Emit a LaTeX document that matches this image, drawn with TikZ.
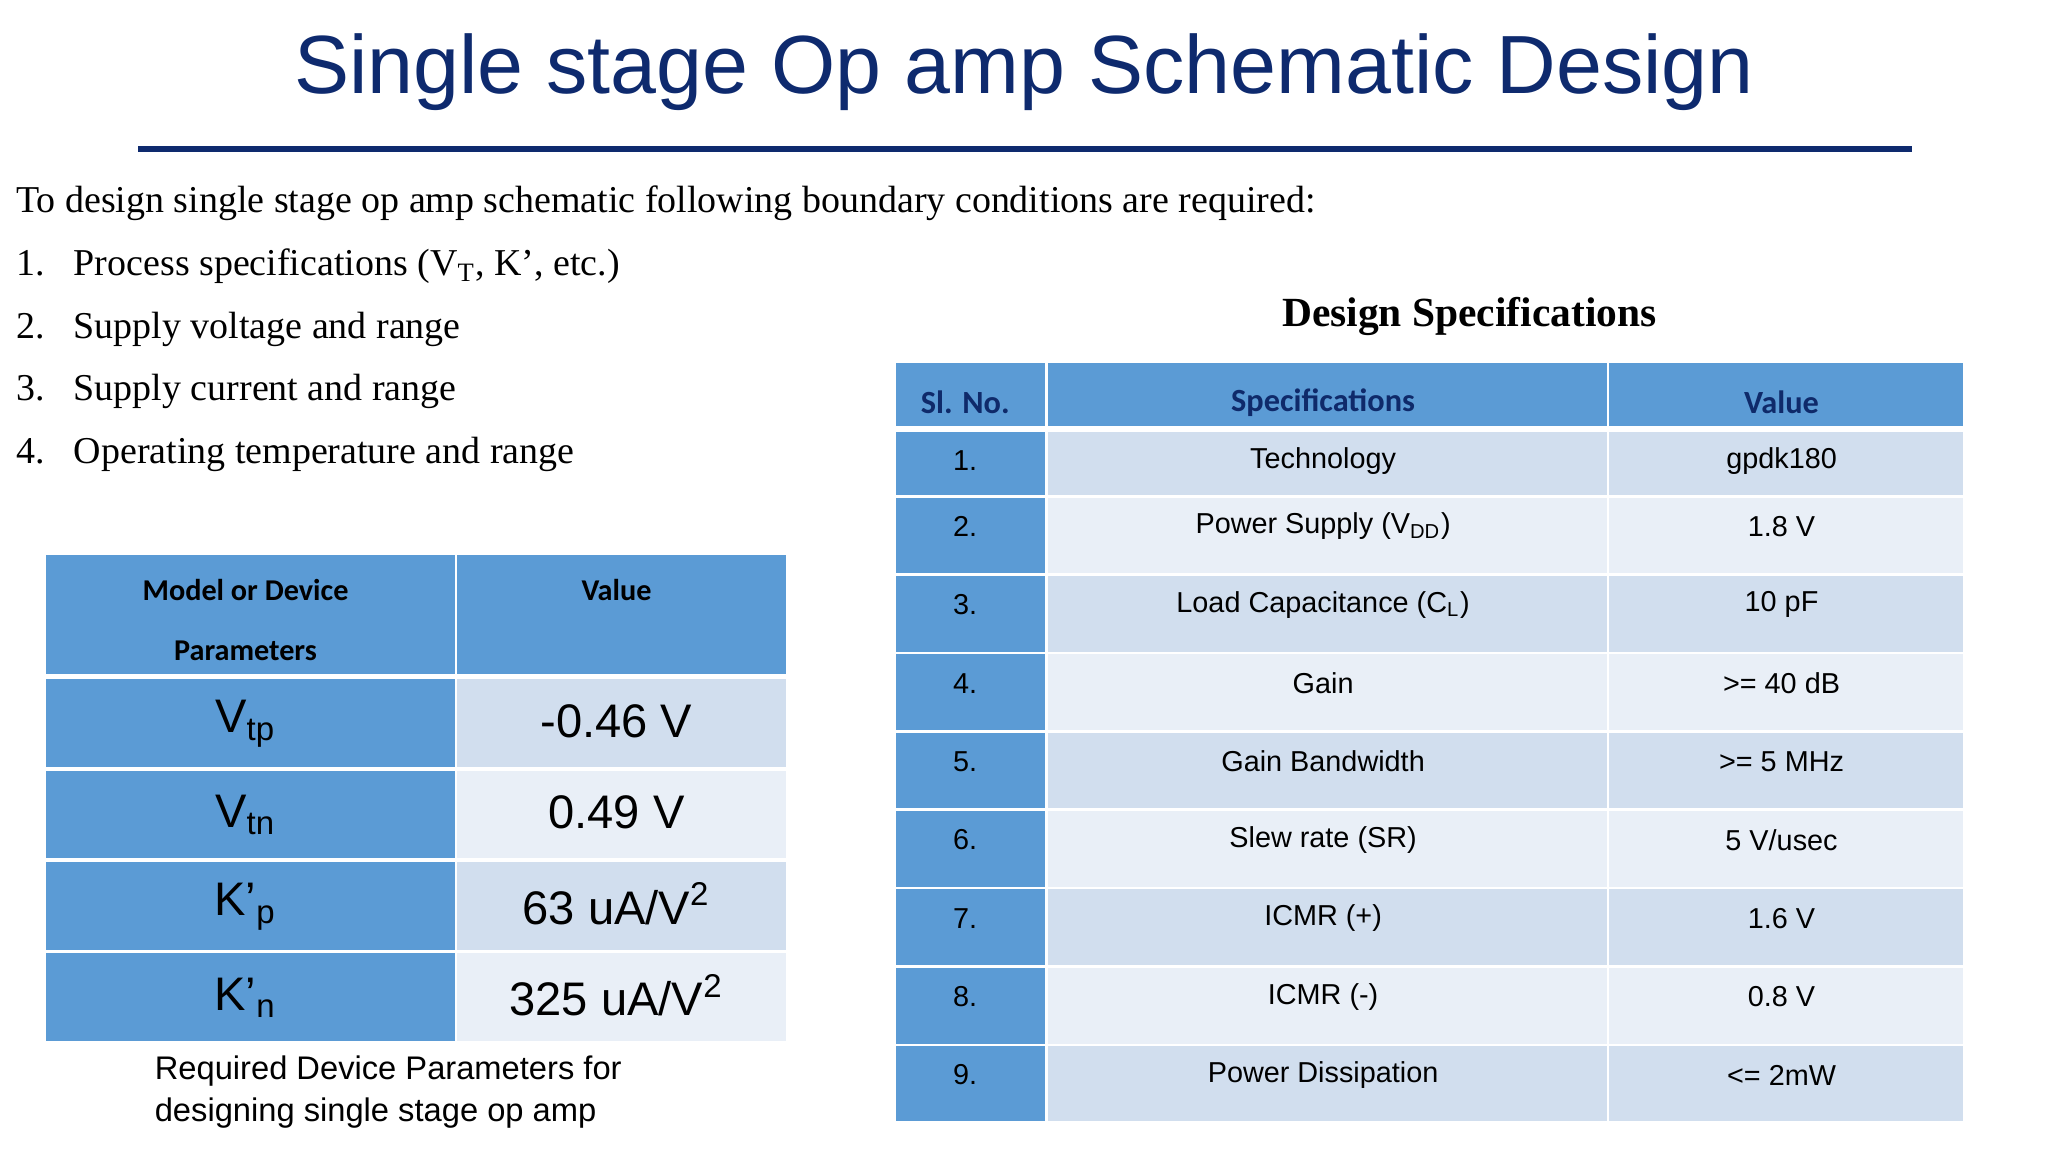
\documentclass[tikz,border=0pt]{standalone}
\usepackage{fontspec}
\setmainfont{Liberation Serif}
\newfontfamily\arial{Liberation Sans}
\newfontfamily\calib{Carlito}
\definecolor{navy}{HTML}{0E2A6E}
\definecolor{hblue}{HTML}{5B9BD5}
\definecolor{rowA}{HTML}{D1DEEE}
\definecolor{rowB}{HTML}{E9EFF7}
\definecolor{hdtext}{HTML}{0F2A6A}
\tikzset{
  celltxt/.style={inner sep=0pt,font=\arial\fontsize{8.2}{10}\selectfont},
  bigtxt/.style={inner sep=0pt,font=\arial\fontsize{13.4}{16}\selectfont},
  hdtxt/.style={inner sep=0pt,font=\calib\bfseries\fontsize{9.2}{11}\selectfont,text=hdtext},
  lhdtxt/.style={inner sep=0pt,font=\calib\bfseries\fontsize{8.6}{11}\selectfont},
  bodytxt/.style={inner sep=0pt,anchor=base west,font=\fontsize{10.8}{13}\selectfont},
}
\begin{document}
\begin{tikzpicture}[x=0.013061cm,y=-0.013061cm]
\useasboundingbox (0,0) rectangle (1568,882);
% title
\node[inner sep=0pt,text=navy,font=\arial\fontsize{23.5}{28}\selectfont] (title) at (784,55) {Single stage Op amp Schematic Design};
\fill[navy] (106,111.5) rectangle (1464,116.5);
% intro
\node[bodytxt] (intro) at (12,163) {To design single stage op amp schematic following boundary conditions are required:};
\foreach \i/\t [count=\k] in {1/{Process specifications (V\textsubscript{T}, K’, etc.)},2/{Supply voltage and range},3/{Supply current and range},4/{Operating temperature and range}}{
  \node[bodytxt] (n\k) at (12,163+48*\k) {\i.};
  \node[bodytxt] (it\k) at (56,163+48*\k) {\t};
}
% design specs title
\node[inner sep=0pt,font=\bfseries\fontsize{11.8}{14}\selectfont] (dstitle) at (1125,242) {Design Specifications};
% right table header
\fill[hblue] (686,278) rectangle (800,326);
\fill[hblue] (802,278) rectangle (1230,326);
\fill[hblue] (1232,278) rectangle (1503,326);
\node[hdtxt] (h1) at (739,308) {Sl. No.};
\node[hdtxt] (h2) at (1013,308) {Specifications};
\node[hdtxt] (h3) at (1364,308) {Value};
% rows
\foreach \n/\s/\v/\top/\bot/\c in {
 1/{Technology}/{gpdk180}/331/379/rowA,
 2/{Power Supply (V\textsubscript{DD})}/{1.8 V}/381/439/rowB,
 3/{Load Capacitance (C\textsubscript{L})}/{10 pF}/441/499/rowA,
 4/{Gain}/{>= 40 dB}/501/559/rowB,
 5/{Gain Bandwidth}/{>= 5 MHz}/561/619/rowA,
 6/{Slew rate (SR)}/{5 V/usec}/621/679/rowB,
 7/{ICMR (+)}/{1.6 V}/681/739/rowA,
 8/{ICMR (-)}/{0.8 V}/741/799/rowB,
 9/{Power Dissipation}/{<= 2mW}/801/858/rowA}{
  \fill[hblue] (686,\top) rectangle (800,\bot);
  \fill[\c] (802,\top) rectangle (1230,\bot);
  \fill[\c] (1232,\top) rectangle (1503,\bot);
  \node[celltxt] (rn\n) at (739,\top+22) {\n.};
  \node[celltxt] (rs\n) at (1013,\top+22) {\s};
  \node[celltxt] (rv\n) at (1364,\top+22) {\v};
}
% left table
\fill[hblue] (35,425) rectangle (348,516);
\fill[hblue] (350,425) rectangle (602,516);
\node[lhdtxt] (lh1) at (188,452) {Model or Device};
\node[lhdtxt] (lh1b) at (188,498) {Parameters};
\node[lhdtxt] (lh2) at (472,452) {Value};
\foreach \p/\v/\top/\c [count=\k] in {
 {V\textsubscript{tp}}/{-0.46 V}/520/rowA,
 {V\textsubscript{tn}}/{0.49 V}/590/rowB,
 {K’\textsubscript{p}}/{63 uA/V\textsuperscript{2}}/660/rowA,
 {K’\textsubscript{n}}/{325 uA/V\textsuperscript{2}}/730/rowB}{
  \fill[hblue] (35,\top) rectangle (348,\top+67);
  \fill[\c] (350,\top) rectangle (602,\top+67);
  \node[bigtxt] (lp\k) at (188,\top+34) {\p};
  \node[bigtxt] (lv\k) at (472,\top+32) {\v};
}
\node[inner sep=0pt,anchor=north west,align=left,font=\arial\fontsize{9.3}{11.9}\selectfont] (cap) at (118,808) {Required Device Parameters for\\designing single stage op amp};
\end{tikzpicture}
\end{document}
